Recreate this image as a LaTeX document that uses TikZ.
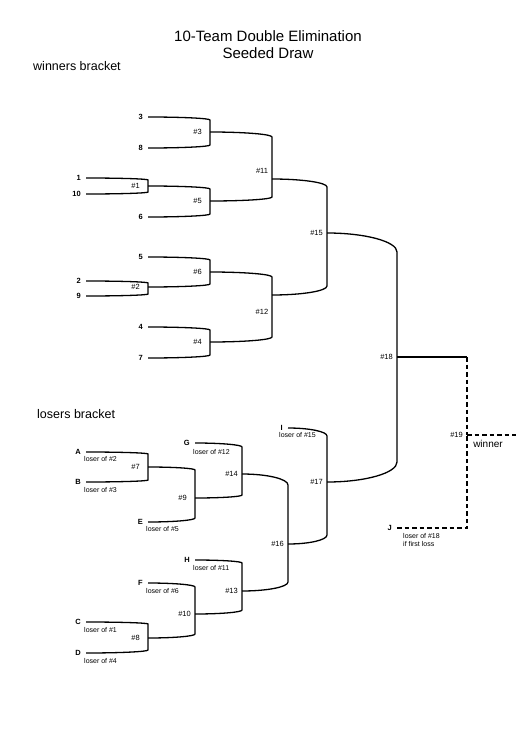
\documentclass[tikz,border=0pt]{standalone}
\usepackage{fontspec}
\setmainfont{Liberation Sans}
\usetikzlibrary{positioning,calc}

\tikzset{
    team/.style={font=\fontsize{7.5}{9}\selectfont\bfseries, anchor=east, inner xsep=5pt, inner ysep=0pt},
    game/.style={font=\fontsize{7.5}{9}\selectfont, inner sep=0pt},
    note/.style={font=\fontsize{7}{8}\selectfont, anchor=west, inner sep=0pt, align=left},
    heading/.style={font=\fontsize{12.5}{14}\selectfont, anchor=west, inner sep=0pt},
    bar/.style={line width=1.3pt},
    later/.style={line width=1.3pt, dash pattern=on 4.5pt off 3pt},
    arm/.style={to path={.. controls ($(\tikztostart)!.55!(\tikztostart-|\tikztotarget)$) and ($(\tikztostart-|\tikztotarget)+(0,#1*.45)$) .. ($(\tikztostart-|\tikztotarget)+(0,#1)$) -- (\tikztotarget)}},
}

\begin{document}
\begin{tikzpicture}[x=1pt, y=-1pt]
\useasboundingbox (0,0) rectangle (530,749);

% headings
\node[font=\fontsize{15}{17}\selectfont, inner sep=0pt] (title) at (268,36) {10-Team Double Elimination};
\node[font=\fontsize{15}{17}\selectfont, inner sep=0pt] (subtitle) at (268,53) {Seeded Draw};
\node[heading] (wb) at (33,66) {winners bracket};
\node[heading] (lb) at (37,414) {losers bracket};

% junctions
\coordinate (j1) at (148,186);
\coordinate (j2) at (148,287);
\coordinate (j3) at (210,132);
\coordinate (j4) at (210,342);
\coordinate (j5) at (210,201);
\coordinate (j6) at (210,272);
\coordinate (j7) at (148,467);
\coordinate (j8) at (148,638);
\coordinate (j9) at (195,498);
\coordinate (j10) at (195,614);
\coordinate (j11) at (272,179);
\coordinate (j12) at (272,295);
\coordinate (j13) at (242,591);
\coordinate (j14) at (242,474);
\coordinate (j15) at (327,233);
\coordinate (j16) at (288,544);
\coordinate (j17) at (327,482);
\coordinate (j18) at (397,357);
\coordinate (j19) at (467,435);
\coordinate (prize) at (516,435);

% teams
\node[team] (t3) at (148,117) {3};
\node[team] (t8) at (148,148) {8};
\node[team] (t1) at (86,178) {1};
\node[team] (t10) at (86,194) {10};
\node[team] (t6) at (148,217) {6};
\node[team] (t5) at (148,257) {5};
\node[team] (t2) at (86,281) {2};
\node[team] (t9) at (86,296) {9};
\node[team] (t4) at (148,327) {4};
\node[team] (t7) at (148,358) {7};

\node[team] (tA) at (86,452) {A};
\node[team] (tB) at (86,482) {B};
\node[team] (tE) at (148,522) {E};
\node[team] (tG) at (195,443) {G};
\node[team] (tH) at (195,560) {H};
\node[team] (tF) at (148,583) {F};
\node[team] (tC) at (86,622) {C};
\node[team] (tD) at (86,653) {D};
\node[team] (tI) at (288,428) {I};
\node[team] (tJ) at (397,528) {J};

% where the losers come from
\node[note] (nA) at (84,459) {loser of \#2};
\node[note] (nB) at (84,490) {loser of \#3};
\node[note] (nE) at (146,529) {loser of \#5};
\node[note] (nG) at (193,452) {loser of \#12};
\node[note] (nH) at (193,568) {loser of \#11};
\node[note] (nF) at (146,591) {loser of \#6};
\node[note] (nC) at (84,630) {loser of \#1};
\node[note] (nD) at (84,661) {loser of \#4};
\node[note] (nI) at (279,435) {loser of \#15};
\node[note] (nJ) at (403,540) {loser of \#18\\if first loss};

% games
\node[game, left=8pt of j1] (g1) {\#1};
\node[game, left=8pt of j2] (g2) {\#2};
\node[game, left=8pt of j3] (g3) {\#3};
\node[game, left=8pt of j4] (g4) {\#4};
\node[game, left=8pt of j5] (g5) {\#5};
\node[game, left=8pt of j6] (g6) {\#6};
\node[game, left=8pt of j7] (g7) {\#7};
\node[game, left=8pt of j8] (g8) {\#8};
\node[game, left=8pt of j9] (g9) {\#9};
\node[game, left=4pt of j10] (g10) {\#10};
\node[game] (g11) at (262,171) {\#11};
\node[game] (g12) at (262,312) {\#12};
\node[game, left=4pt of j13] (g13) {\#13};
\node[game, left=4pt of j14] (g14) {\#14};
\node[game, left=4pt of j15] (g15) {\#15};
\node[game, left=4pt of j16] (g16) {\#16};
\node[game, left=4pt of j17] (g17) {\#17};
\node[game, left=4pt of j18] (g18) {\#18};
\node[game, left=4pt of j19] (g19) {\#19};
\node[font=\fontsize{10}{12}\selectfont, inner sep=0pt] (champ) at (488,444) {winner};

% winners bracket
\draw[bar] (t1.east) to[arm=2] (j1) (t10.east) to[arm=-2] (j1);
\draw[bar] (t2.east) to[arm=2] (j2) (t9.east) to[arm=-2] (j2);
\draw[bar] (t3.east) to[arm=3] (j3) (t8.east) to[arm=-3] (j3);
\draw[bar] (t4.east) to[arm=3] (j4) (t7.east) to[arm=-3] (j4);
\draw[bar] (j1) to[arm=3] (j5) (t6.east) to[arm=-3] (j5);
\draw[bar] (t5.east) to[arm=3] (j6) (j2) to[arm=-3] (j6);
\draw[bar] (j3) to[arm=5] (j11) (j5) to[arm=-4] (j11);
\draw[bar] (j6) to[arm=5] (j12) (j4) to[arm=-5] (j12);
\draw[bar] (j11) to[arm=8] (j15) (j12) to[arm=-9] (j15);
\draw[bar] (j15) to[arm=19] (j18) (j17) to[arm=-20] (j18);

% losers bracket
\draw[bar] (tA.east) to[arm=2] (j7) (tB.east) to[arm=-2] (j7);
\draw[bar] (j7) to[arm=3] (j9) (tE.east) to[arm=-4] (j9);
\draw[bar] (tG.east) to[arm=4] (j14) (j9) to[arm=-3] (j14);
\draw[bar] (tC.east) to[arm=2] (j8) (tD.east) to[arm=-3] (j8);
\draw[bar] (tF.east) to[arm=4] (j10) (j8) to[arm=-4] (j10);
\draw[bar] (tH.east) to[arm=3] (j13) (j10) to[arm=-4] (j13);
\draw[bar] (j14) to[arm=11] (j16) (j13) to[arm=-9] (j16);
\draw[bar] (tI.east) to[arm=8] (j17) (j16) to[arm=-9] (j17);

% final
\draw[bar] (j18) -- (j18-|j19);
\draw[later] (j18-|j19) -- (j19);
\draw[later] (tJ.east) -| (j19);
\draw[later] (j19) -- (prize);
\end{tikzpicture}
\end{document}
